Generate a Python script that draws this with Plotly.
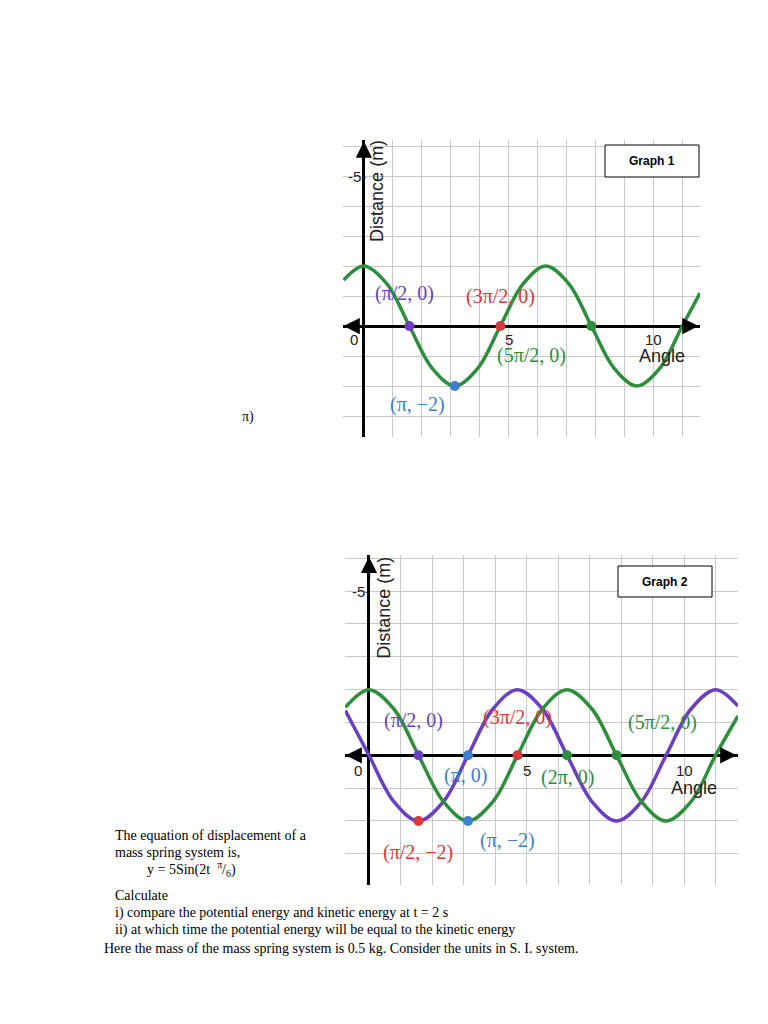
import plotly.graph_objects as go

# curve key points (peaks, troughs, zero crossings and midpoints)
g1_x = [-0.7, 0, 0.79, 1.57, 2.36, 3.14, 3.93, 4.71, 5.5, 6.28, 7.07, 7.85, 8.64, 9.42, 10.21, 10.99, 11.6]
g1_green = [1.53, 2, 1.41, 0, -1.41, -2, -1.41, 0, 1.41, 2, 1.41, 0, -1.41, -2, -1.41, 0, 1.1]
g2_x = [-0.75, 0, 0.79, 1.57, 2.36, 3.14, 3.93, 4.71, 5.5, 6.28, 7.07, 7.85, 8.64, 9.42, 10.21, 10.99, 11.7]
g2_green = [1.46, 2, 1.41, 0, -1.41, -2, -1.41, 0, 1.41, 2, 1.41, 0, -1.41, -2, -1.41, 0, 1.2]
g2_purple = [1.36, 0, -1.41, -2, -1.41, 0, 1.41, 2, 1.41, 0, -1.41, -2, -1.41, 0, 1.41, 2, 1.5]

# highlighted points
g1_pts = [(1.57, 0, "#6a3fc1"), (4.71, 0, "#d63a3a"), (7.85, 0, "#2d8e3c"), (3.14, -2, "#3a7fd0")]
g2_pts = [(1.57, 0, "#6a3fc1"), (3.14, 0, "#3a7fd0"), (4.71, 0, "#d63a3a"), (6.28, 0, "#2d8e3c"),
          (7.85, 0, "#2d8e3c"), (1.57, -2, "#d63a3a"), (3.14, -2, "#3a7fd0")]

g1_labels = [(1.4, 1.1, "(π/2, 0)", "#6a3fc1"), (4.7, 1.0, "(3π/2, 0)", "#d63a3a"),
             (5.8, -0.97, "(5π/2, 0)", "#2d8e3c"), (1.85, -2.6, "(π, −2)", "#3a7fd0")]
g2_labels = [(1.4, 1.07, "(π/2, 0)", "#6a3fc1"), (4.7, 1.15, "(3π/2, 0)", "#d63a3a"),
             (9.3, 1.0, "(5π/2, 0)", "#2d8e3c"), (3.05, -0.6, "(π, 0)", "#3a7fd0"),
             (6.3, -0.67, "(2π, 0)", "#2d8e3c"), (1.55, -2.95, "(π/2, −2)", "#d63a3a"),
             (4.4, -2.6, "(π, −2)", "#3a7fd0")]

question = [
    (113, 845, "The equation of displacement of a"),
    (113, 862, "mass spring system is,"),
    (145, 881, "y = 5Sin(2t  <sup>π</sup>/<sub>6</sub>)"),
    (113, 905, "Calculate"),
    (113, 923, "i) compare the potential energy and kinetic energy at t = 2 s"),
    (113, 940, "ii) at which time the potential energy will be equal to the kinetic energy"),
    (102, 958, "Here the mass of the mass spring system is 0.5 kg. Consider the units in S. I. system."),
]

W, H = 768, 1024
OFF = 8  # page body margin
def px(v): return (v - OFF) / W
def py(v): return 1 - (v - OFF) / H

GREEN, PURPLE = "#2d8e3c", "#6a3fc1"
line = dict(width=3.5, shape="spline", smoothing=1.0)
fig = go.Figure()
fig.add_trace(go.Scatter(x=g1_x, y=g1_green, mode="lines", line=dict(line, color=GREEN),
                         xaxis="x", yaxis="y", showlegend=False))
fig.add_trace(go.Scatter(x=[p[0] for p in g1_pts], y=[p[1] for p in g1_pts], mode="markers",
                         marker=dict(color=[p[2] for p in g1_pts], size=10), xaxis="x", yaxis="y", showlegend=False))
fig.add_trace(go.Scatter(x=g2_x, y=g2_purple, mode="lines", line=dict(line, color=PURPLE),
                         xaxis="x2", yaxis="y2", showlegend=False))
fig.add_trace(go.Scatter(x=g2_x, y=g2_green, mode="lines", line=dict(line, color=GREEN),
                         xaxis="x2", yaxis="y2", showlegend=False))
fig.add_trace(go.Scatter(x=[p[0] for p in g2_pts], y=[p[1] for p in g2_pts], mode="markers",
                         marker=dict(color=[p[2] for p in g2_pts], size=10), xaxis="x2", yaxis="y2", showlegend=False))

ax = dict(dtick=1, showgrid=True, gridcolor="#c8c8c8", gridwidth=1, zeroline=True, zerolinecolor="black",
          zerolinewidth=2.5, showticklabels=False, ticks="", showline=False, fixedrange=True)
fig.update_layout(
    width=W, height=H, margin=dict(l=0, r=0, t=0, b=0),
    paper_bgcolor="white", plot_bgcolor="white",
    xaxis=dict(ax, domain=[px(343), px(700)], range=[-0.72, 11.6]),
    yaxis=dict(ax, domain=[py(437), py(140)], range=[-3.7, 6.2]),
    xaxis2=dict(ax, domain=[px(345), px(738)], range=[-0.76, 11.7], anchor="y2"),
    yaxis2=dict(ax, domain=[py(885), py(555)], range=[-3.95, 6.1], anchor="x2"),
)

ann = []
def arrows(xr, yr, xmax, xmin, ymax):
    for (x0, y0, x1, y1) in [(xmax, 0, xmax - 0.6, 0), (xmin, 0, xmin + 0.6, 0), (0, ymax, 0, ymax - 0.7)]:
        ann.append(dict(x=x0, y=y0, ax=x1, ay=y1, xref=xr, yref=yr, axref=xr, ayref=yr, text="",
                        showarrow=True, arrowhead=2, arrowsize=1.3, arrowwidth=2.5, arrowcolor="black"))
arrows("x", "y", 11.55, -0.7, 6.15)
arrows("x2", "y2", 11.65, -0.74, 6.05)

sans = dict(family="Liberation Sans, Arial", size=15, color="#222")
for xr, yr in [("x", "y"), ("x2", "y2")]:
    for t, x, y in [("0", -0.35, -0.45), ("5", 5.0, -0.45), ("10", 10, -0.45), ("-5-", -0.25, 5)]:
        ann.append(dict(x=x, y=y, xref=xr, yref=yr, text=t, showarrow=False, font=sans))
    ann.append(dict(x=10.3, y=-1.0, xref=xr, yref=yr, text="Angle", showarrow=False, font=dict(sans, size=18)))
    ann.append(dict(x=0.45, y=4.5, xref=xr, yref=yr, text="Distance (m)", textangle=-90, showarrow=False,
                    font=dict(sans, size=18)))
ser = dict(family="Liberation Serif, Times New Roman", size=20)
for xr, yr, labels in [("x", "y", g1_labels), ("x2", "y2", g2_labels)]:
    for x, y, t, c in labels:
        ann.append(dict(x=x, y=y, xref=xr, yref=yr, text=t, showarrow=False, font=dict(ser, color=c)))

shapes = []
for (x0, y0, x1, y1, t) in [(605, 145, 699, 177, "Graph 1"), (618, 566, 712, 597, "Graph 2")]:
    shapes.append(dict(type="rect", xref="paper", yref="paper", x0=px(x0), x1=px(x1), y0=py(y1), y1=py(y0),
                       line=dict(color="black", width=1), fillcolor="white", layer="above"))
    ann.append(dict(x=px((x0 + x1) / 2), y=py((y0 + y1) / 2), xref="paper", yref="paper", text="<b>" + t + "</b>",
                    xanchor="center", yanchor="middle", showarrow=False,
                    font=dict(family="Liberation Sans, Arial", size=12, color="black")))

ann.append(dict(x=px(240), y=py(417), xref="paper", yref="paper", text="π)", showarrow=False, xanchor="left",
                font=dict(family="Liberation Serif", size=14, color="black")))
for x, y, t in question:
    ann.append(dict(x=px(x), y=py(y), xref="paper", yref="paper", text=t, showarrow=False, xanchor="left",
                    font=dict(family="Liberation Serif", size=14, color="black")))

fig.update_layout(annotations=ann, shapes=shapes)
fig.write_html("out.html")
